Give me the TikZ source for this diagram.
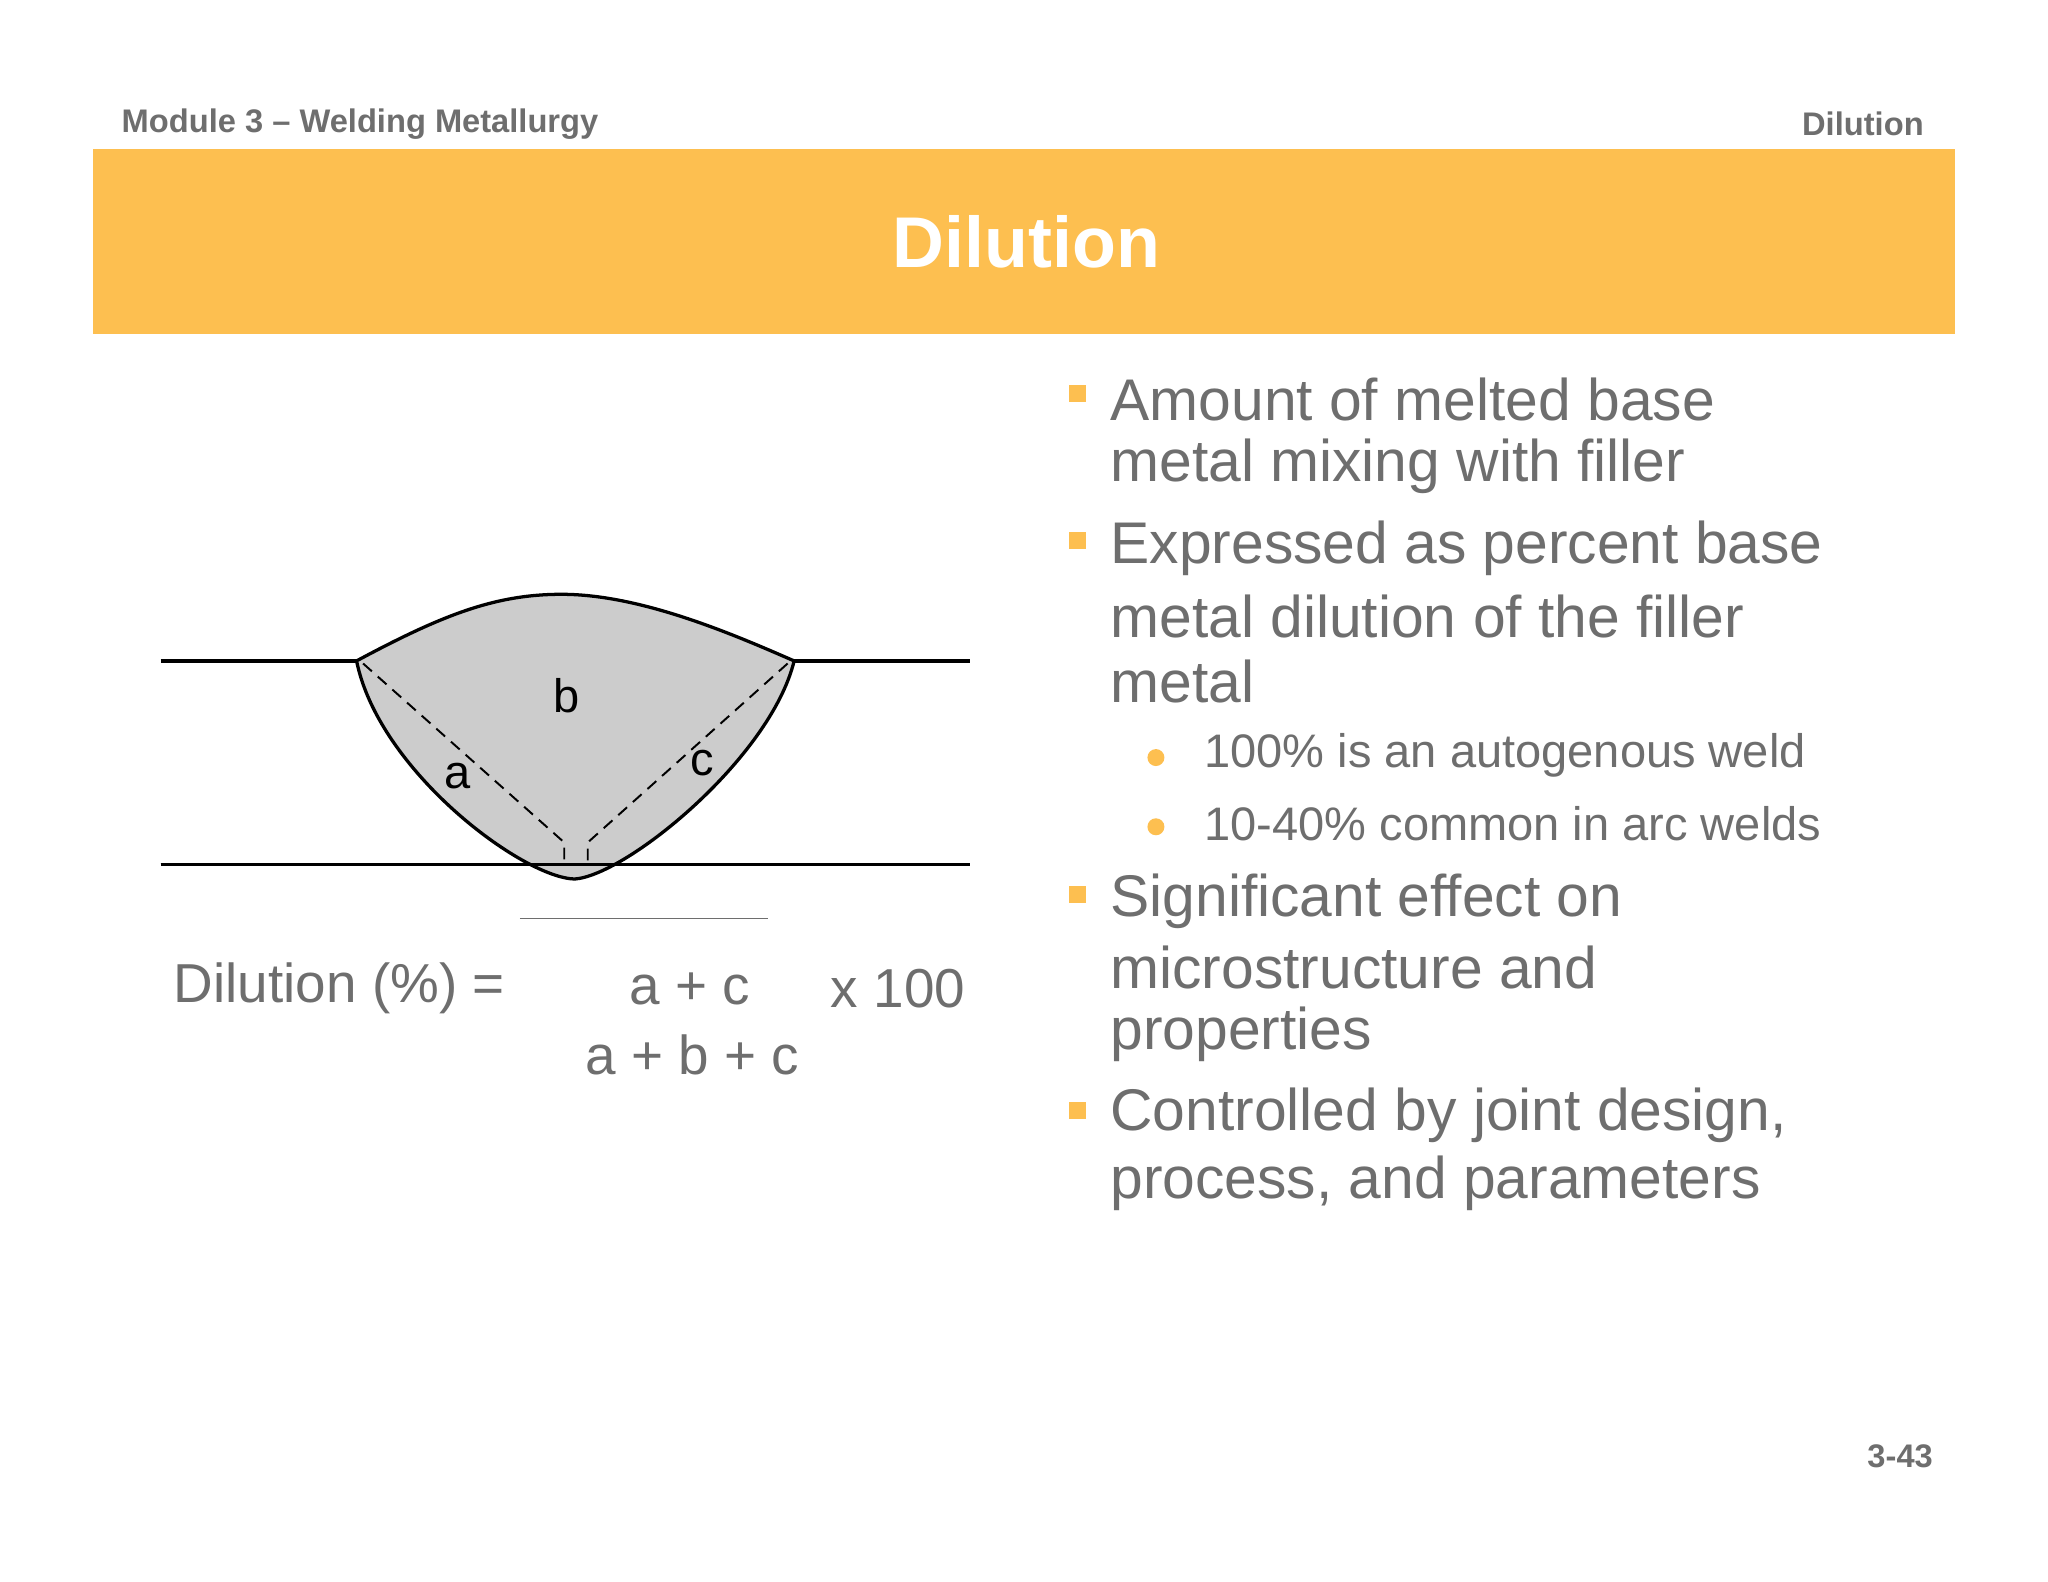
\documentclass[tikz,border=0pt]{standalone}
\usepackage{fontspec}
\setmainfont{Liberation Sans}
\definecolor{orng}{HTML}{FDBF50}
\definecolor{txt}{HTML}{6E6E6E}
\begin{document}
\begin{tikzpicture}[x=1pt,y=-1pt,
  hdr/.style={font=\fontsize{25}{28}\selectfont\bfseries,text=txt,inner sep=0},
  big/.style={font=\fontsize{45}{50}\selectfont,text=txt,anchor=west,inner sep=0},
  small/.style={font=\fontsize{36}{40}\selectfont,text=txt,anchor=west,inner sep=0},
  lbl/.style={font=\fontsize{36}{40}\selectfont,text=black,inner sep=0},
  sq/.style={fill=orng,minimum size=13pt,inner sep=0},
  dot/.style={circle,fill=orng,minimum size=13pt,inner sep=0}]
\useasboundingbox (0,0) rectangle (1568,1211);
\fill[white] (0,0) rectangle (1568,1211);
\node[hdr,anchor=west] (mod) at (93,95) {Module 3 – Welding Metallurgy};
\node[hdr,anchor=east] (top) at (1473,95) {Dilution};
\fill[orng] (71,114) rectangle (1497,256);
\node[font=\fontsize{55}{60}\selectfont\bfseries,text=white] (title) at (786,185) {Dilution};
% weld
\draw[line width=2.5pt] (123,506) -- (273,506);
\draw[line width=2.5pt] (608,506) -- (743,506);
\draw[line width=2.5pt] (123,662) -- (743,662);
\filldraw[fill=black!20,line width=2.5pt] (273,506) .. controls (340,470) and (380,455) .. (430,455)
  .. controls (490,455) and (560,485) .. (608,506)
  .. controls (590,580) and (480,670) .. (440,673)
  .. controls (400,672) and (290,590) .. (273,506) -- cycle;
\draw[line width=1.5pt,dash pattern=on 9pt off 6pt] (278,508) -- (432,645) -- (432,662);
\draw[line width=1.5pt,dash pattern=on 9pt off 6pt] (603,508) -- (450,645) -- (450,662);
\draw[line width=2.5pt] (123,662) -- (743,662);
\node[lbl] (b) at (434,533) {b};
\node[lbl] (a) at (350,594) {a};
\node[lbl] (c) at (538,584) {c};
% formula
\draw[txt,line width=1pt] (398,703) -- (588,703);
\node[big,font=\fontsize{42}{46}\selectfont] (dil) at (133,757) {Dilution (\%) =};
\node[font=\fontsize{42}{46}\selectfont,text=txt,inner sep=0] (num) at (528,757) {a + c};
\node[big,font=\fontsize{42}{46}\selectfont] (x) at (636,757) {x 100};
\node[font=\fontsize{42}{46}\selectfont,text=txt,inner sep=0] (den) at (530,808) {a + b + c};
% bullets
\node[sq] (s1) at (825,301) {};
\node[big] (t1a) at (850,306) {Amount of melted base};
\node[big] (t1b) at (850,357) {metal mixing with filler};
\node[sq] (s2) at (825,414) {};
\node[big] (t2a) at (850,420) {Expressed as percent base};
\node[big] (t2b) at (850,472) {metal dilution of the filler};
\node[big] (t2c) at (850,522) {metal};
\node[dot] (d1) at (885,580) {};
\node[small] (u1) at (922,578) {100\% is an autogenous weld};
\node[dot] (d2) at (885,633) {};
\node[small] (u2) at (922,631) {10-40\% common in arc welds};
\node[sq] (s3) at (825,685) {};
\node[big] (t3a) at (850,690) {Significant effect on};
\node[big] (t3b) at (850,741) {microstructure and};
\node[big] (t3c) at (850,792) {properties};
\node[sq] (s4) at (825,850) {};
\node[big] (t4a) at (850,854) {Controlled by joint design,};
\node[big] (t4b) at (850,906) {process, and parameters};
\node[hdr,anchor=east] (pg) at (1480,1115) {3-43};
\end{tikzpicture}
\end{document}
